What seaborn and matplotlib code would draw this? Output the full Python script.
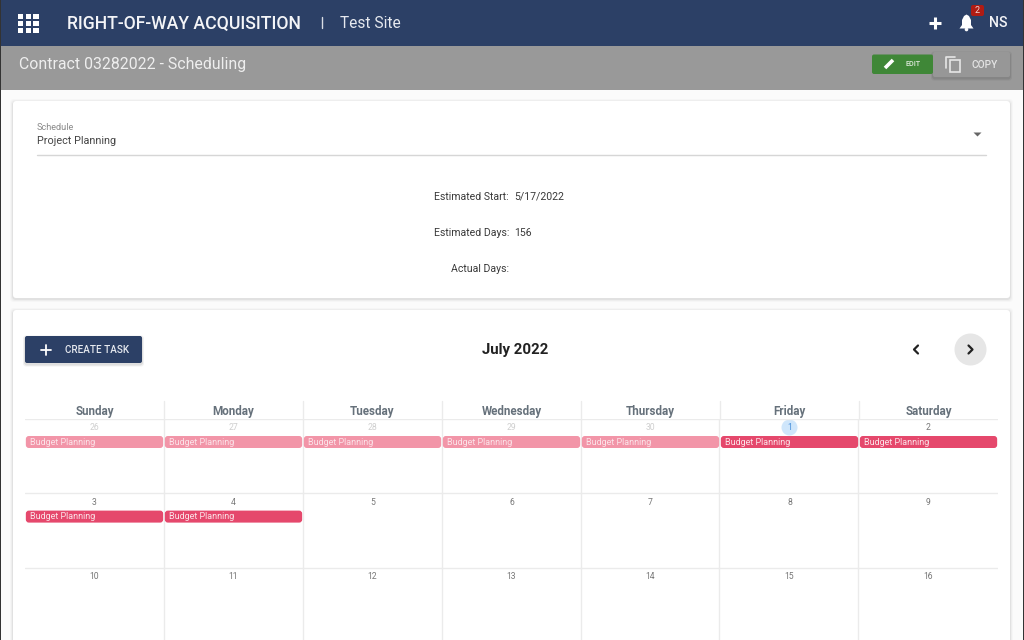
import matplotlib
matplotlib.use('Agg')
import matplotlib.pyplot as plt
from matplotlib.patches import FancyBboxPatch, Rectangle, Circle, Polygon
import pandas as pd
import seaborn as sns

app_title = "RIGHT-OF-WAY ACQUISITION"
site_name = "Test Site"
page_title = "Contract 03282022 - Scheduling"
schedule_name = "Project Planning"
info_labels = ["Estimated Start:", "Estimated Days:", "Actual Days:"]
info_values = ["5/17/2022", "156", ""]
month_title = "July 2022"
task_name = "Budget Planning"

days = ["Sunday", "Monday", "Tuesday", "Wednesday", "Thursday", "Friday", "Saturday"]
week_dates = [
    ["26", "27", "28", "29", "30", "1", "2"],
    ["3", "4", "5", "6", "7", "8", "9"],
    ["10", "11", "12", "13", "14", "15", "16"],
]
task_days = ["Sunday", "Monday", "Tuesday", "Wednesday", "Thursday", "Friday", "Saturday", "Sunday", "Monday"]
task_weeks = [0, 0, 0, 0, 0, 0, 0, 1, 1]
task_past = [True, True, True, True, True, False, False, False, False]

NAVY = "#2c4066"
PINK = "#f295a8"
RED = "#e5486c"
GRID = "#ebebeb"

sns.set_theme(style="white")
plt.rcParams['font.family'] = ['Roboto', 'DejaVu Sans']

fig = plt.figure(figsize=(10.24, 6.4), dpi=100, facecolor="white")
ax = fig.add_axes([0, 0, 1, 1])
ax.set_xlim(0, 1024)
ax.set_ylim(640, 0)
ax.axis("off")


def box(x0, y0, x1, y1, color, r=2, z=2, **kw):
    p = FancyBboxPatch((x0, y0), x1 - x0, y1 - y0, boxstyle=f"round,pad=0,rounding_size={r}",
                       fc=color, ec="none", zorder=z, **kw)
    ax.add_patch(p)


def card(x0, y0, x1, y1):
    for grow, alpha in [(3, 0.02), (2, 0.03), (1, 0.05)]:
        box(x0 - grow, y0 - grow + 1, x1 + grow, y1 + grow + 1, "black", r=4, z=1, alpha=alpha)
    box(x0, y0, x1, y1, "white", r=3, z=1.5)


def shadow_button(x0, y0, x1, y1, color):
    for grow, alpha in [(2, 0.05), (1, 0.08)]:
        box(x0 - grow, y0 - grow + 1.5, x1 + grow, y1 + grow + 1.5, "black", r=3, z=2.5, alpha=alpha)
    box(x0, y0, x1, y1, color, r=2, z=3)


# top bars
ax.add_patch(Rectangle((0, 0), 1024, 46, fc=NAVY, ec="none", zorder=1))
ax.add_patch(Rectangle((0, 46), 1024, 44, fc="#999999", ec="none", zorder=1))
ax.add_patch(Rectangle((0, 90), 1024, 550, fc="#fbfbfb", ec="none", zorder=0))
ax.add_patch(Rectangle((0, 0), 1.2, 640, fc="#333333", ec="none", zorder=6))
ax.add_patch(Rectangle((1022.8, 0), 1.2, 640, fc="#333333", ec="none", zorder=6))

for i in range(3):
    for j in range(3):
        ax.add_patch(Rectangle((18 + j * 7.6, 13.5 + i * 7.2), 5.4, 5.2, fc="white", ec="none", zorder=3))

ax.text(67, 24, app_title, color="#f4f5f8", fontsize=12.7, fontweight="medium", va="center", zorder=3)
ax.plot([321.5, 321.5], [17, 28], color="#d8dce4", lw=1, zorder=3)
ax.text(340, 23, site_name, color="#e6e9ef", fontsize=11.2, va="center", zorder=3)
ax.text(19, 64.5, page_title, color="#eeeeee", fontsize=11.4, va="center", zorder=3)

# plus, bell and badge
ax.plot([929, 941], [23, 23], color="white", lw=2.2, zorder=3, solid_capstyle="butt")
ax.plot([935, 935], [17, 29], color="white", lw=2.2, zorder=3, solid_capstyle="butt")
ax.add_patch(Polygon([(959.5, 28.5), (962, 25), (962, 20), (964, 16), (966.5, 14.5), (969, 16), (971, 20),
                      (971, 25), (973.5, 28.5)], fc="white", ec="none", zorder=3))
ax.add_patch(Circle((966.5, 29.5), 1.8, fc="white", ec="none", zorder=3))
box(971, 5, 984, 16, "#b01c14", r=2, z=4)
ax.text(977.5, 10.5, "2", color="#f3d6d3", fontsize=6.5, ha="center", va="center", zorder=5)
ax.text(998, 23, "NS", color="#f4f5f8", fontsize=10.2, fontweight="medium", ha="center", va="center", zorder=3)

# edit / copy buttons
shadow_button(933, 52, 1010, 77, "#979797")
box(872, 54.5, 933, 74, "#3f8737", r=2, z=4)
ax.plot([885, 893], [68, 60], color="white", lw=2.6, zorder=5, solid_capstyle="butt")
ax.text(913, 64.5, "EDIT", color="#dfe9dd", fontsize=5.2, fontweight="medium", ha="center", va="center", zorder=5)
ax.add_patch(Rectangle((950, 60), 10, 12, fc="none", ec="#e6e6e6", lw=1.2, zorder=5))
ax.plot([946, 946, 955], [68, 57, 57], color="#e6e6e6", lw=1.2, zorder=5)
ax.text(985, 64.5, "COPY", color="#e4e4e4", fontsize=7.4, fontweight="medium", ha="center", va="center", zorder=5)

# schedule card
card(13, 101, 1010, 298)
ax.text(37, 127.5, "Schedule", color="#8a8a8a", fontsize=6.6, va="center", zorder=3)
ax.text(37, 140.5, schedule_name, color="#444444", fontsize=7.8, va="center", zorder=3)
ax.plot([37, 986], [154.5, 154.5], color="#d6d6d6", lw=1, zorder=3)
ax.add_patch(Polygon([(973.5, 132.5), (981.5, 132.5), (977.5, 136.5)], fc="#666666", ec="none", zorder=3))
for y, lab, val in zip([197, 232.5, 268.5], info_labels, info_values):
    ax.text(509, y, lab, color="#3a3a3a", fontsize=7.6, ha="right", va="center", zorder=3)
    ax.text(514.5, y, val, color="#3a3a3a", fontsize=7.6, va="center", zorder=3)

# calendar card
card(13, 310, 1010, 660)
shadow_button(25, 336, 142, 363, NAVY)
ax.plot([41, 51], [349.5, 349.5], color="white", lw=1.3, zorder=5)
ax.plot([46, 46], [344.5, 354.5], color="white", lw=1.3, zorder=5)
ax.text(97, 349.8, "CREATE TASK", color="#e6e9ef", fontsize=7.1, fontweight="medium", ha="center", va="center", zorder=5)
ax.text(515, 350, month_title, color="#222222", fontsize=10.8, fontweight="bold", ha="center", va="center", zorder=3)
ax.plot([918, 914, 918], [345.5, 349.5, 353.5], color="#222222", lw=1.6, zorder=3)
ax.add_patch(Circle((970.5, 349.5), 16, fc="#e6e6e6", ec="none", zorder=3))
ax.plot([968.5, 972.5, 968.5], [345.5, 349.5, 353.5], color="#222222", lw=1.6, zorder=4)

# month grid: one column per weekday, one y unit per week
ROW = 74.6
COL = 139
cal = fig.add_axes([25 / 1024, 0, 973 / 1024, 221 / 640], facecolor="none", zorder=5)

tasks = pd.DataFrame({"day": task_days, "week": task_weeks, "past": task_past})
tasks["span"] = 12 / ROW
for (week, past), group in tasks.groupby(["week", "past"]):
    sns.barplot(data=group, x="day", y="span", order=days, width=1, errorbar=None, saturation=1,
                color=PINK if past else RED, bottom=week + 17 / ROW, ax=cal)

# swap the square bars for rounded ones
for bar in list(cal.patches):
    x, y, w, h = bar.get_x(), bar.get_y(), bar.get_width(), bar.get_height()
    color = bar.get_facecolor()
    bar.remove()
    if h != h or h == 0:
        continue
    cal.add_patch(FancyBboxPatch((x + 0.006, y), w - 0.012, h, boxstyle="round,pad=0,rounding_size=0.022",
                                 mutation_aspect=COL / ROW, fc=color, ec="none", zorder=3))

cal.set_xlim(-0.5, 6.5)
cal.set_ylim(221 / ROW, 0)
cal.set_yticks([])
cal.set_xlabel("")
cal.set_ylabel("")
cal.xaxis.tick_top()
cal.tick_params(axis="x", length=0, pad=1)
cal.set_xticks(range(7))
cal.set_xticklabels(days, fontsize=8.4, fontweight="bold", color="#66717b")
sns.despine(ax=cal, left=True, bottom=True, right=True, top=True)
for i in range(1, 7):
    cal.axvline(i - 0.5 - 0.5 / COL, color=GRID, lw=1, zorder=1)
    ax.plot([24.5 + i * COL, 24.5 + i * COL], [401, 419], color=GRID, lw=1, zorder=3)
for w in range(3):
    cal.axhline(w - 0.4 / ROW, color=GRID, lw=1, zorder=1)

for _, row in tasks.iterrows():
    i = days.index(row["day"])
    cal.text(i - 0.5 + 5 / COL, row["week"] + 23.3 / ROW, task_name, color="#fbe3e8", fontsize=6.5,
             va="center", zorder=4)

for w, dates in enumerate(week_dates):
    for i, d in enumerate(dates):
        muted = w == 0 and i < 5
        today = w == 0 and i == 5
        if today:
            ax.add_patch(Circle((25 + (i + 0.5) * COL, 427.5), 8, fc="#cfe6fb", ec="none", zorder=3))
        cal.text(i, w + 8.5 / ROW, d, color="#4a90d9" if today else ("#cfcfcf" if muted else "#777777"),
                 fontsize=6.2, ha="center", va="center", zorder=4)

fig.savefig("out.png", dpi=100)
